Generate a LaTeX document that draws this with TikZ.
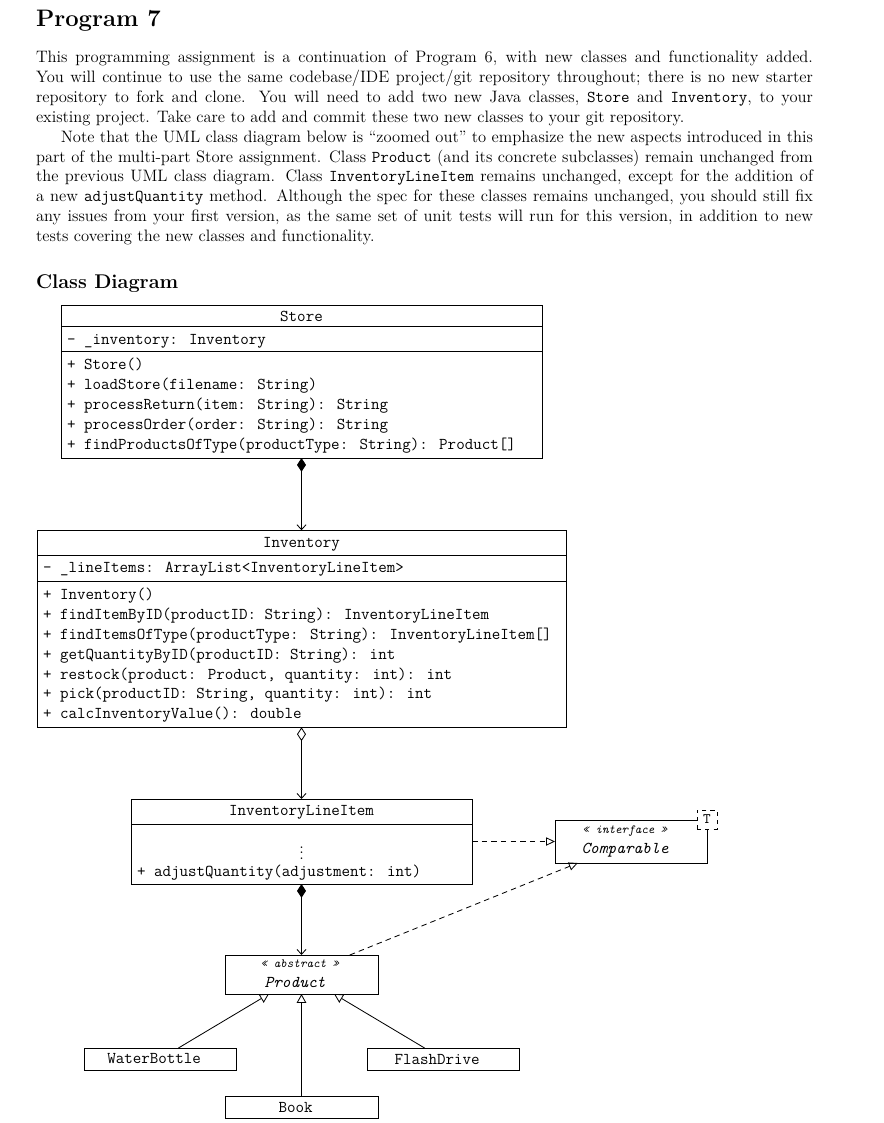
\documentclass[tikz,border=0pt]{standalone}
\usepackage{fontspec}
\usetikzlibrary{arrows.meta}
\newdimen\px \px=0.725pt
\newcommand{\jline}[1]{\makebox[777\px][s]{#1}}
\begin{document}
\begin{tikzpicture}[x=0.725pt,y=-0.725pt,
  every node/.style={inner sep=0pt, outer sep=0pt},
  txt/.style={anchor=base west, font=\rmfamily\fontsize{12}{14.5}\selectfont},
  mem/.style={anchor=base west, font=\ttfamily\fontsize{12}{14.5}\selectfont},
  cname/.style={anchor=base, font=\ttfamily\fontsize{12}{14.5}\selectfont},
  stereo/.style={anchor=base, font=\ttfamily\itshape\fontsize{9}{10}\selectfont},
  iname/.style={anchor=base, font=\ttfamily\itshape\fontsize{12}{14.5}\selectfont},
  cls/.style={draw, line width=0.6pt, fill=white, rectangle},
  leaf/.style={cls, minimum height=22\px, font=\ttfamily\fontsize{12}{14.5}\selectfont},
  sep/.style={line width=0.6pt},
  conn/.style={line width=0.6pt},
  compo/.style={conn, {Diamond[length=10pt,width=6.5pt]}-{Straight Barb[length=3.6pt,width=6.5pt]}},
  aggr/.style={conn, {Diamond[open,length=10pt,width=6.5pt]}-{Straight Barb[length=3.6pt,width=6.5pt]}},
  gen/.style={conn, -{Triangle[open,length=6.5pt,width=7pt]}},
  real/.style={conn, dash pattern=on 4pt off 3pt, -{Triangle[open,length=6.5pt,width=6pt]}}
]
\useasboundingbox (0,0) rectangle (884,1123);

% ---------- text ----------
\node[anchor=base west, font=\bfseries\fontsize{17.28}{22}\selectfont] (title) at (36,26) {Program 7};
\node[txt] (l1) at (36,62) {\jline{This programming assignment is a continuation of Program 6, with new classes and functionality added.}};
\node[txt] (l2) at (36,82) {\jline{You will continue to use the same codebase/IDE project/git repository throughout; there is no new starter}};
\node[txt] (l3) at (36,102) {\jline{repository to fork and clone. You will need to add two new Java classes, \texttt{Store} and \texttt{Inventory}, to your}};
\node[txt] (l4) at (36,122) {existing project. Take care to add and commit these two new classes to your git repository.};
\node[txt] (l5) at (36,142) {\jline{\hspace*{18pt}Note that the UML class diagram below is “zoomed out” to emphasize the new aspects introduced in this}};
\node[txt] (l6) at (36,162) {\jline{part of the multi-part Store assignment. Class \texttt{Product} (and its concrete subclasses) remain unchanged from}};
\node[txt] (l7) at (36,181.5) {\jline{the previous UML class diagram. Class \texttt{InventoryLineItem} remains unchanged, except for the addition of}};
\node[txt] (l8) at (36,201.5) {\jline{a new \texttt{adjustQuantity} method. Although the spec for these classes remains unchanged, you should still fix}};
\node[txt] (l9) at (36,221.5) {\jline{any issues from your first version, as the same set of unit tests will run for this version, in addition to new}};
\node[txt] (l10) at (36,241) {tests covering the new classes and functionality.};
\node[anchor=base west, font=\bfseries\fontsize{14.4}{18}\selectfont] (sub) at (36,288) {Class Diagram};

% ---------- Store ----------
\node[cls, minimum width=481\px, minimum height=153\px] (store) at (301.5,381.5) {};
\draw[sep] (store.west |- 0,326.5) -- (store.east |- 0,326.5);
\draw[sep] (store.west |- 0,351.5) -- (store.east |- 0,351.5);
\node[cname] (storeN) at (301.5,321) {Store};
\node[mem] (s1) at (67,344) {- \_inventory: Inventory};
\node[mem] (s2) at (67,369) {+ Store()};
\node[mem] (s3) at (67,389) {+ loadStore(filename: String)};
\node[mem] (s4) at (67,409) {+ processReturn(item: String): String};
\node[mem] (s5) at (67,429) {+ processOrder(order: String): String};
\node[mem] (s6) at (67,449) {+ findProductsOfType(productType: String): Product[]};

% ---------- Inventory ----------
\node[cls, minimum width=529\px, minimum height=197\px] (inv) at (301.5,628.8) {};
\draw[sep] (inv.west |- 0,555.5) -- (inv.east |- 0,555.5);
\draw[sep] (inv.west |- 0,581.5) -- (inv.east |- 0,581.5);
\node[cname] (invN) at (301.5,547) {Inventory};
\node[mem] (i1) at (43,572) {- \_lineItems: ArrayList<InventoryLineItem>};
\node[mem] (i2) at (43,599) {+ Inventory()};
\node[mem] (i3) at (43,619) {+ findItemByID(productID: String): InventoryLineItem};
\node[mem] (i4) at (43,639) {+ findItemsOfType(productType: String): InventoryLineItem[]};
\node[mem] (i5) at (43,659) {+ getQuantityByID(productID: String): int};
\node[mem] (i6) at (43,679) {+ restock(product: Product, quantity: int): int};
\node[mem] (i7) at (43,698.5) {+ pick(productID: String, quantity: int): int};
\node[mem] (i8) at (43,718.5) {+ calcInventoryValue(): double};

% ---------- InventoryLineItem ----------
\node[cls, minimum width=341\px, minimum height=85\px] (ili) at (301.5,841.5) {};
\draw[sep] (ili.west |- 0,824) -- (ili.east |- 0,824);
\node[cname] (iliN) at (301.5,815) {InventoryLineItem};
\node[font=\fontsize{12}{14.5}\selectfont] (dots) at (301.5,849) {$\vdots$};
\node[mem] (ili1) at (137,876) {+ adjustQuantity(adjustment: int)};

% ---------- Comparable ----------
\node[cls, minimum width=152\px, minimum height=43\px] (comp) at (631,841.5) {};
\node[stereo] (compS) at (625,833) {« interface »};
\node[iname] (compN) at (625,853) {Comparable};
\node[draw, dashed, line width=0.6pt, fill=white, minimum width=20\px, minimum height=19\px,
      font=\ttfamily\fontsize{10.5}{11}\selectfont] (tpar) at (707,819.5) {T};

% ---------- Product and subclasses ----------
\node[cls, minimum width=153\px, minimum height=39\px] (prod) at (301.5,974.5) {};
\node[stereo] (prodS) at (300,967) {« abstract »};
\node[iname] (prodN) at (295,987) {Product};
\node[leaf, minimum width=152\px] (wb) at (160,1059) {WaterBottle\hspace*{8.5pt}};
\node[leaf, minimum width=152\px] (fd) at (443,1059) {FlashDrive\hspace*{8.5pt}};
\node[leaf, minimum width=153\px] (book) at (301.5,1107) {Book\hspace*{8.5pt}};

% ---------- connectors ----------
\draw[compo] (store.south) -- (inv.north);
\draw[aggr] (inv.south) -- (ili.north);
\draw[compo] (ili.south) -- (prod.north);
\draw[real] (ili.east) -- (comp.west);
\draw[real] (prod) -- (comp);
\draw[gen] (wb) -- (prod);
\draw[gen] (book) -- (prod);
\draw[gen] (fd) -- (prod);
\end{tikzpicture}
\end{document}
